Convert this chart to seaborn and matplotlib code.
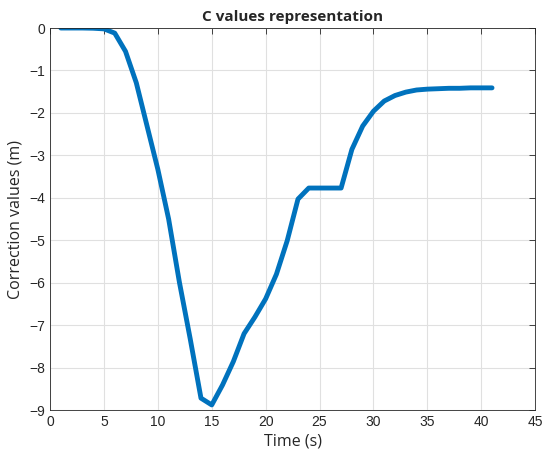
import numpy as np
import pandas as pd
import matplotlib
matplotlib.use("Agg")
import matplotlib.pyplot as plt
import seaborn as sns

# Values
time_s = list(range(1, 42))
correction_m = [0.0, 0.0, 0.0, -0.005, -0.02, -0.12, -0.55, -1.29, -2.31, -3.33,
                -4.5, -5.99, -7.32, -8.72, -8.88, -8.41, -7.86, -7.2, -6.81, -6.38,
                -5.8, -5.01, -4.03, -3.77, -3.77, -3.77, -3.77, -2.86, -2.31, -1.96,
                -1.72, -1.59, -1.51, -1.46, -1.44, -1.43, -1.42, -1.42, -1.41, -1.41,
                -1.41]
x_ticks = list(range(0, 46, 5))
y_ticks = list(range(-9, 1))

df = pd.DataFrame({"Time": time_s, "Correction": correction_m})

sns.set_style("white")
plt.rcParams['font.family'] = ['Open Sans', 'DejaVu Sans']

fig = plt.figure(figsize=(5.5, 4.67), dpi=100)
ax = fig.add_axes([0.091, 0.122, 0.882, 0.818])

sns.lineplot(data=df, x="Time", y="Correction", ax=ax, color="#0072BD", linewidth=3.5)

ax.set_xlim(0, 45)
ax.set_ylim(-9, 0)
ax.set_xticks(x_ticks)
ax.set_yticks(y_ticks)
ax.grid(True, color="#e0e0e0", linewidth=0.8)
ax.tick_params(direction="in", top=True, right=True, length=4, labelsize=10,
               colors="#262626", width=0.6)
for lbl in ax.get_xticklabels() + ax.get_yticklabels():
    lbl.set_fontfamily(["Liberation Sans", "DejaVu Sans"])
for s in ax.spines.values():
    s.set_color("#262626")
    s.set_linewidth(0.6)

ax.set_xlabel("Time (s)", fontsize=11.5, labelpad=3)
ax.set_ylabel("Correction values (m)", fontsize=11.5, labelpad=4)
ax.set_title("C values representation", fontsize=11, fontweight="bold", pad=5)

fig.savefig("out.png", dpi=100)
